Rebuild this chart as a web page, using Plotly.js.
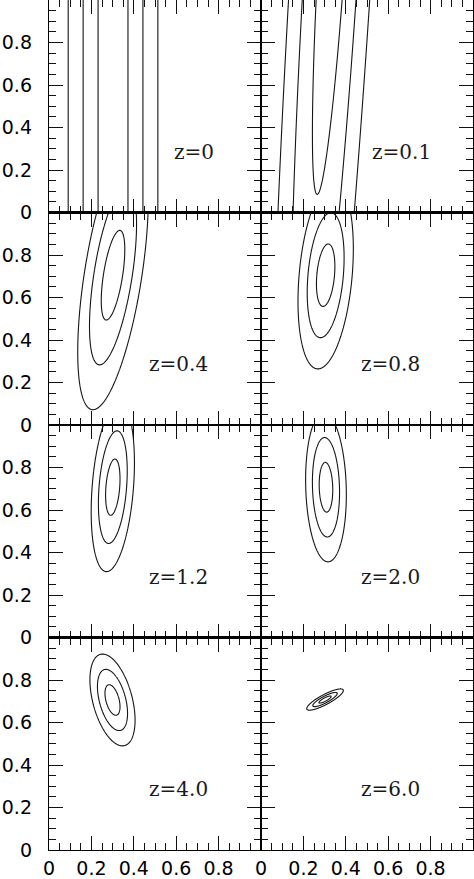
<!DOCTYPE html>
<html>
<head>
<meta charset="utf-8">
<script src="https://cdn.plot.ly/plotly-3.0.1.min.js"></script>
<style>
  html, body { margin: 0; padding: 0; background: #fff; }
  #paper { width: 474px; height: 879px; }
</style>
</head>
<body>
<div id="paper"></div>
<script>
"use strict"

// redshift of each panel, left to right, top to bottom
var redshifts = ["0", "0.1", "0.4", "0.8", "1.2", "2.0", "4.0", "6.0"];

// gaussian (sigma_y null = y unconstrained)
var center_x = [0.302, 0.345, 0.302, 0.305, 0.301, 0.3065, 0.2995, 0.302];
var center_y = [0.5, 1.385, 0.705, 0.705, 0.7075, 0.707, 0.706, 0.708];
var sigma_x = [0.0705, 0.1025, 0.0555, 0.0435, 0.034, 0.032, 0.0355, 0.0288];
var sigma_y = [null, 1.3, 0.211, 0.147, 0.1325, 0.117, 0.072, 0.0167];
var correlation = [0, 0.78, 0.57, 0.28, 0.29, -0.1, -0.44, 0.85];

// contours drawn at 1, 2 and 3 sigma
var sigma_levels = [1, 2, 3];

var tick_values = [0, 0.2, 0.4, 0.6, 0.8, 1];
var tick_labels = ["0", "0.2", "0.4", "0.6", "0.8", ""];

// where the "z=" label starts in each panel
var label_left = [0.58, 0.512, 0.46, 0.46, 0.46, 0.46, 0.46, 0.46];

function sigma_grid(i) {
    var n = 241;
    var x0 = -0.05, x1 = 1.05, y0 = -0.05, y1 = 1.05;
    if (sigma_y[i] !== null) {
        x0 = Math.max(x0, center_x[i] - 4 * sigma_x[i]);
        x1 = Math.min(x1, center_x[i] + 4 * sigma_x[i]);
        y0 = Math.max(y0, center_y[i] - 4 * sigma_y[i]);
        y1 = Math.min(y1, center_y[i] + 4 * sigma_y[i]);
    }
    var xs = [], ys = [], zs = [];
    for (var a = 0; a < n; a++) {
        xs.push(x0 + (x1 - x0) * a / (n - 1));
        ys.push(y0 + (y1 - y0) * a / (n - 1));
    }
    var r = correlation[i];
    for (var b = 0; b < n; b++) {
        var row = [];
        for (var a = 0; a < n; a++) {
            var dx = (xs[a] - center_x[i]) / sigma_x[i];
            if (sigma_y[i] === null) {
                row.push(Math.abs(dx));
                continue;
            }
            var dy = (ys[b] - center_y[i]) / sigma_y[i];
            var d2 = (dx * dx - 2 * r * dx * dy + dy * dy) / (1 - r * r);
            row.push(Math.sqrt(d2));
        }
        zs.push(row);
    }
    return {x: xs, y: ys, z: zs};
}

function axis(domain, anchor, show_labels, standoff) {
    return {
        domain: domain,
        anchor: anchor,
        range: [0, 1],
        tickmode: "array",
        tickvals: tick_values,
        ticktext: tick_labels,
        ticks: "inside",
        ticklen: 14,
        tickwidth: 1,
        tickcolor: "#111",
        minor: {tick0: 0, dtick: 0.05, ticks: "inside", ticklen: 7, tickwidth: 1, tickcolor: "#111"},
        showline: true,
        linecolor: "#000",
        linewidth: 1.2,
        mirror: "allticks",
        showgrid: false,
        zeroline: false,
        showticklabels: show_labels,
        ticklabelstandoff: standoff,
        tickfont: {family: "DejaVu Sans ExtraLight, DejaVu Sans", size: 19, color: "#000"},
        fixedrange: true
    };
}

var traces = [];
var layout = {
    width: 474,
    height: 879,
    margin: {l: 49, r: 1, t: 0, b: 29},
    paper_bgcolor: "#fff",
    plot_bgcolor: "#fff",
    showlegend: false,
    annotations: []
};

for (var i = 0; i < redshifts.length; i++) {
    var row = Math.floor(i / 2);
    var col = i % 2;
    var suffix = i === 0 ? "" : String(i + 1);
    var g = sigma_grid(i);

    traces.push({
        type: "contour",
        x: g.x,
        y: g.y,
        z: g.z,
        xaxis: "x" + suffix,
        yaxis: "y" + suffix,
        autocontour: false,
        contours: {
            start: sigma_levels[0],
            end: sigma_levels[sigma_levels.length - 1],
            size: 1,
            coloring: "none",
            showlabels: false
        },
        line: {color: "#151515", width: 1.1, smoothing: 1},
        showscale: false,
        hoverinfo: "skip"
    });

    layout["xaxis" + suffix] = axis([col * 0.5, col * 0.5 + 0.5], "y" + suffix, row === 3, 1);
    layout["yaxis" + suffix] = axis([1 - (row + 1) * 0.25, 1 - row * 0.25], "x" + suffix, col === 0, 12);

    layout.annotations.push({
        xref: "x" + suffix,
        yref: "y" + suffix,
        x: label_left[i],
        y: 0.285,
        xanchor: "left",
        yanchor: "middle",
        showarrow: false,
        text: "z=" + redshifts[i],
        font: {family: "DejaVu Serif", size: 20, color: "#1a1a1a"}
    });
}

Plotly.newPlot("paper", traces, layout, {staticPlot: true});
</script>
</body>
</html>
